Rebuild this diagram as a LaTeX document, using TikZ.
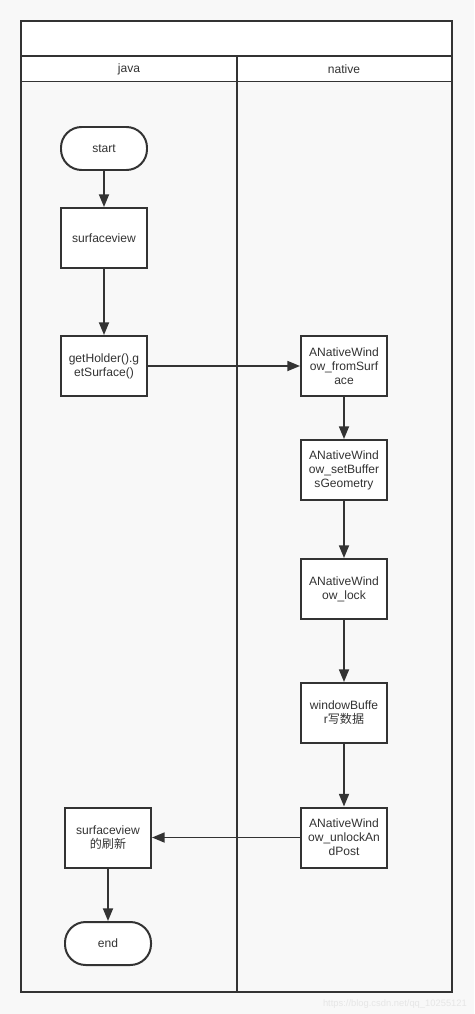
\documentclass[tikz,border=0pt]{standalone}
\usepackage{fontspec}
\setmainfont{Liberation Sans}
\newfontfamily\cjk{Noto Sans CJK SC}
\usetikzlibrary{arrows.meta,positioning}
\definecolor{lineg}{HTML}{333333}
\definecolor{bgg}{HTML}{F8F8F8}
\definecolor{markg}{HTML}{E6E6E6}
\begin{document}
\begin{tikzpicture}[
    x=0.03cm, y=-0.03cm,
    >={Triangle[length=0.38cm,width=0.3cm]},
    % Define styles
    terminal/.style={rectangle, rounded corners=0.62cm, draw=lineg, line width=1.7pt, fill=white, minimum width=2.58cm, minimum height=1.29cm, inner sep=0pt},
    proc/.style={rectangle, draw=lineg, line width=1.7pt, fill=white, minimum width=2.58cm, minimum height=1.8cm, inner sep=0pt, align=center},
    flow/.style={->, line width=1.5pt, lineg},
    lane/.style={line width=1.7pt, lineg},
    % Font
    font=\fontsize{10.3}{12}\selectfont, text=lineg
]
\useasboundingbox[fill=bgg] (0,0) rectangle (474,1014);

% Pool frame and lanes
\fill[white] (21,21) rectangle (452,81.5);
\draw[lane] (21,56) -- (452,56);
\draw[lane] (21,81.5) -- (452,81.5);
\draw[lane] (237,56) -- (237,992);
\draw[lane] (21,21) rectangle (452,992);
\node (java) at (129,69) {java};
\node (native) at (344,69) {native};

% Java lane
\node[terminal] (start) at (104,148.5) {start};
\node[proc] (surf) at (104,238) {surfaceview};
\node[proc] (holder) at (104,366) {getHolder().g\\etSurface()};
\node[proc] (refresh) at (108,837.5) {surfaceview\\{\cjk 的刷新}};
\node[terminal] (finish) at (108,943.5) {end};

% Native lane
\node[proc] (fromsurf) at (344,366) {ANativeWind\\ow\_fromSurf\\ace};
\node[proc] (setgeo) at (344,470) {ANativeWind\\ow\_setBuffer\\sGeometry};
\node[proc] (lock) at (344,589) {ANativeWind\\ow\_lock};
\node[proc] (wbuf) at (344,713) {windowBuffe\\r{\cjk 写数据}};
\node[proc] (unlock) at (344,837.5) {ANativeWind\\ow\_unlockAn\\dPost};

% Connections
\draw[flow] (start) -- (surf);
\draw[flow] (surf) -- (holder);
\draw[flow] (holder) -- (fromsurf);
\draw[flow] (fromsurf) -- (setgeo);
\draw[flow] (setgeo) -- (lock);
\draw[flow] (lock) -- (wbuf);
\draw[flow] (wbuf) -- (unlock);
\draw[flow] (unlock) -- (refresh);
\draw[flow] (refresh) -- (finish);

% Watermark
\node[text=markg, font=\fontsize{8}{9}\selectfont, anchor=east] (mark) at (471,1004) {https://blog.csdn.net/qq\_10255121};
\end{tikzpicture}
\end{document}
